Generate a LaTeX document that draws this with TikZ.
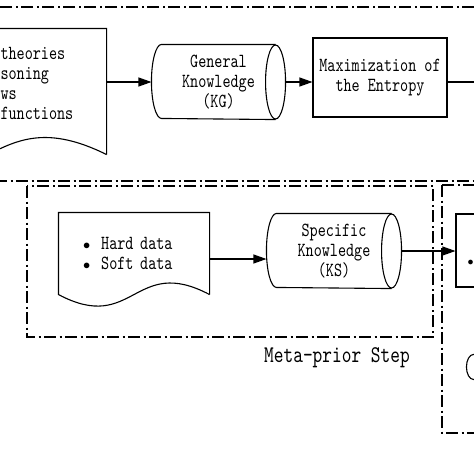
\documentclass[tikz,border=0pt]{standalone}
\usepackage{fontspec}
\newfontfamily\diagfont[FakeStretch=0.77]{lmmono10-regular.otf}
\usetikzlibrary{arrows.meta}

% drum outline round a node: node, x radius, y radius
\newcommand{\drumoutline}[3]{%
  \draw ([xshift=-#2]#1.north east) -- ([xshift=#2]#1.north west)
    arc[start angle=90,end angle=270,x radius=#2,y radius=#3]
    -- ([xshift=-#2]#1.south east);
  \draw ([xshift=-#2]#1.east) ellipse[x radius=#2,y radius=#3];}
% document outline round a node: node, wave depth
\newcommand{\docoutline}[2]{%
  \draw (#1.south east) -- (#1.north east) -- (#1.north west) -- (#1.south west)
    .. controls ([yshift=-#2]#1.south) and ([yshift=#2]#1.south) .. (#1.south east);}

\begin{document}
\begin{tikzpicture}[x=1pt,y=-1pt,line width=1.1pt,
    frame/.style={dash pattern=on 12pt off 3.5pt on 2pt off 3.5pt},
    txt/.style={font=\fontsize{20pt}{20pt}\selectfont\diagfont,align=center}]
	\useasboundingbox (0,0) rectangle (474,474);

	% dash-dot frames
	\draw[frame] (-20,7) rectangle (494,181);
	\draw[frame] (27,186) rectangle (433,337);
	\draw[frame] (442,185) rectangle (494,433);

	\begin{scope}[every node/.style={txt,inner sep=0pt}]
		\node[minimum width=236,minimum height=125] (basis) at (-12,91.5) {};
		\node[anchor=west,align=left] (basistext) at (0,83.5) {theories\\soning\\ws\\functions};
		\node[minimum width=133,minimum height=74] (gk) at (218.5,82) {General\\Knowledge\\(KG)};
		\node[draw,minimum width=134,minimum height=79] (maxent) at (380,77.5) {Maximization of\\the Entropy};
		\node[minimum width=150,minimum height=81,text width=102,align=left] (hard) at (134,253.5)
			{{\fontsize{14pt}{14pt}\selectfont$\bullet$}\hspace{11pt}Hard data\\{\fontsize{14pt}{14pt}\selectfont$\bullet$}\hspace{11pt}Soft data};
		\node[minimum width=134,minimum height=74] (ks) at (334,251) {Specific\\Knowledge\\(KS)};
		\node[draw,minimum width=64,minimum height=73] (rbox) at (488,250.5) {};
		\node[font=\fontsize{12pt}{12pt}\selectfont] (rdot) at (470.5,263) {$\bullet$};
		\node[minimum width=73,minimum height=25] (post) at (503.5,367.5) {};
		\node[font=\fontsize{24pt}{24pt}\selectfont\diagfont] (metalabel) at (337,358) {Meta-prior Step};
	\end{scope}

	\docoutline{basis}{59pt}
	\docoutline{hard}{40pt}
	\drumoutline{gk}{10pt}{37pt}
	\drumoutline{ks}{10pt}{37pt}
	\drumoutline{post}{7pt}{12.5pt}

	\coordinate (beyond) at (490,82);
	\coordinate (hardout) at ([yshift=-5.5pt]hard.east);

	\begin{scope}[>={Triangle[length=13pt,width=9pt]},
	              every edge/.style={draw=black},
	              every path/.style={->}]
		\path (basis.east |- gk) edge (gk.west);
		\path (gk.east) edge (gk -| maxent.west);
		\path (maxent.east |- gk) edge (beyond);
		\path (hardout) edge (hardout -| ks.west);
		\path (ks.east) edge (ks.east -| rbox.west);
	\end{scope}
\end{tikzpicture}
\end{document}
